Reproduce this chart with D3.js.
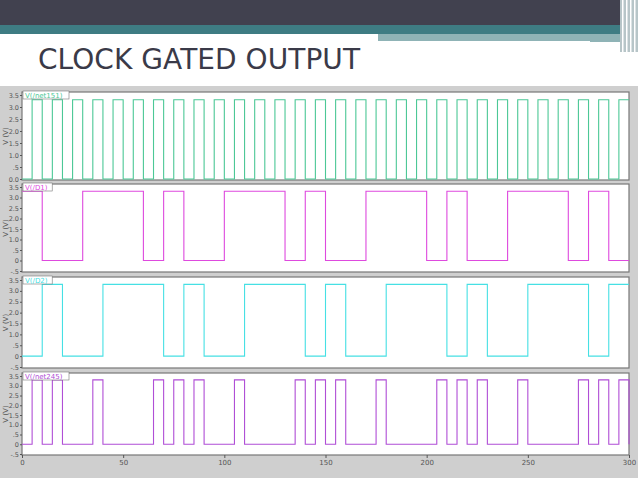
<!DOCTYPE html>
<html><head><meta charset="utf-8">
<script src="https://cdn.jsdelivr.net/npm/d3@7"></script>
<style>body{margin:0;background:#fff}svg{display:block}</style>
</head><body>
<script>
const width = 638, height = 478;

// signal transitions: [time, level] pairs, level 1 = high
const clkEdges = d3.range(0, 300, 10).flatMap(t => [[t, 0], [t + 5, 1]]);
const d1Edges = [[0,1],[10,0],[30,1],[60,0],[70,1],[80,0],[100,1],[130,0],[140,1],[150,0],[170,1],[200,0],[210,1],[220,0],[240,1],[270,0],[280,1],[290,0]];
const d2Edges = [[0,0],[10,1],[20,0],[40,1],[70,0],[80,1],[90,0],[110,1],[140,0],[150,1],[160,0],[180,1],[210,0],[220,1],[230,0],[250,1],[280,0],[290,1]];
const gatedHighs = [5,15,35,65,75,85,105,135,145,155,175,205,215,225,245,275,285,295];
const gatedEdges = gatedHighs.flatMap(t => [[t, 1], [t + 5, 0]]);
gatedEdges.unshift([0, 0]);
const xTicks = [0, 50, 100, 150, 200, 250, 300];
const names = ["V(/net151)", "V(/D1)", "V(/D2)", "V(/net245)"];
const colors = ["#4cc896", "#de4ade", "#46e0e4", "#b04ed6"];
const HIGH = 3.3;

const svg = d3.select("body").append("svg").attr("width", width).attr("height", height);

// slide header
svg.append("rect").attr("width", width).attr("height", 25).attr("fill", "#41414f");
svg.append("rect").attr("y", 25).attr("width", width).attr("height", 9).attr("fill", "#3e7c83");
svg.append("rect").attr("x", 378).attr("y", 34).attr("width", 260).attr("height", 8).attr("fill", "#8fb3b6");
svg.append("rect").attr("x", 378).attr("y", 41).attr("width", 212).attr("height", 2).attr("fill", "#fff");
svg.append("rect").attr("x", 620).attr("y", 0).attr("width", 18).attr("height", 52).attr("fill", "#b7c5c8");
[622, 626, 630, 634].forEach(x => svg.append("rect").attr("x", x).attr("y", 0).attr("width", 1.5).attr("height", 52).attr("fill", "#fff"));
svg.append("text").attr("x", 38).attr("y", 69).attr("font-family", "DejaVu Sans, sans-serif")
  .attr("font-size", 28).attr("textLength", 322).attr("fill", "#3a3a48").text("CLOCK GATED OUTPUT");

// simulator background
svg.append("rect").attr("x", 0).attr("y", 86).attr("width", width).attr("height", 392).attr("fill", "#cfcfcf");

const x = d3.scaleLinear().domain([0, 300]).range([22, 629]);
const panels = [
  {top: 92, bottom: 180, dom: [0, 3.5], ticks: [0,.5,1,1.5,2,2.5,3,3.5], fmt: d => d === 0 ? "0.0" : d === .5 ? ".5" : d.toFixed(1), edges: clkEdges},
  {top: 184, bottom: 272, dom: [-.5, 3.5], edges: d1Edges},
  {top: 277, bottom: 368, dom: [-.5, 3.5], edges: d2Edges},
  {top: 373, bottom: 455, dom: [-.5, 3.5], edges: gatedEdges}
];
const defTicks = [-.5,0,.5,1,1.5,2,2.5,3,3.5];
const defFmt = d => d === 0 ? "0" : d === .5 ? ".5" : d === -.5 ? "-.5" : d.toFixed(1);

panels.forEach((p, i) => {
  const y = d3.scaleLinear().domain(p.dom).range([p.bottom - 1, p.top + 3]);
  const g = svg.append("g");
  g.append("rect").attr("x", x(0)).attr("y", p.top).attr("width", x(300) - x(0)).attr("height", p.bottom - p.top)
    .attr("fill", "#fff").attr("stroke", "#777").attr("stroke-width", 1.2);
  const ax = g.append("g").attr("transform", `translate(${x(0)},0)`)
    .call(d3.axisLeft(y).tickValues(p.ticks || defTicks).tickFormat(p.fmt || defFmt).tickSize(2).tickPadding(1));
  ax.select(".domain").remove();
  ax.selectAll("text").attr("font-family", "DejaVu Sans, sans-serif").attr("font-size", 6.5).attr("fill", "#555");
  ax.selectAll("line").attr("stroke", "#555");
  g.append("text").attr("transform", `translate(8,${(p.top + p.bottom) / 2}) rotate(-90)`)
    .attr("text-anchor", "middle").attr("font-family", "DejaVu Sans, sans-serif").attr("font-size", 7).attr("fill", "#555").text("V (V)");
  // step waveform
  const pts = p.edges.map(d => [d[0], d[1] ? HIGH : 0]);
  pts.push([300, pts[pts.length - 1][1]]);
  const line = d3.line().x(d => x(d[0])).y(d => y(d[1])).curve(d3.curveStepAfter);
  g.append("path").attr("d", line(pts)).attr("fill", "none").attr("stroke", colors[i]).attr("stroke-width", 1.1);
  // name tag
  const tw = names[i].length * 4.2 + 4;
  g.append("rect").attr("x", x(0) + 1).attr("y", p.top - 1).attr("width", tw).attr("height", 8)
    .attr("fill", "#fff").attr("stroke", "#777").attr("stroke-width", .6);
  g.append("text").attr("x", x(0) + 3).attr("y", p.top + 5.5).attr("font-family", "DejaVu Sans, sans-serif")
    .attr("font-size", 7).attr("fill", colors[i]).text(names[i]);
});

// x axis
const xa = svg.append("g").attr("transform", "translate(0,455)")
  .call(d3.axisBottom(x).tickValues(xTicks).tickSize(3).tickPadding(2));
xa.select(".domain").remove();
xa.selectAll("text").attr("font-family", "DejaVu Sans, sans-serif").attr("font-size", 7).attr("fill", "#555");
xa.selectAll("line").attr("stroke", "#555");
</script>
</body></html>
